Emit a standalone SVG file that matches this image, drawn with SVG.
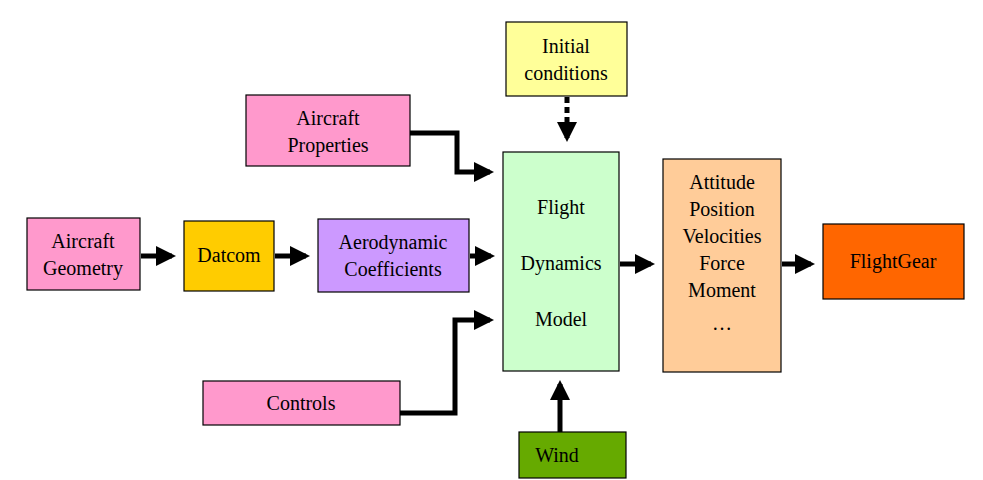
<svg xmlns="http://www.w3.org/2000/svg" width="983" height="480" viewBox="0 0 983 480">
<style>
.b{stroke:#000;stroke-width:1.2}
text{font-family:"Liberation Serif",serif;font-size:20px;text-anchor:middle;fill:#000}
.c{fill:none;stroke:#000;stroke-width:5}
</style>
<defs><marker id="a" markerWidth="4" markerHeight="4" refX="3.2" refY="2" orient="auto" markerUnits="strokeWidth"><path d="M0,0 L4,2 L0,4 Z" fill="#000"/></marker></defs>
<rect width="983" height="480" fill="#fff"/>
<g id="connectors">
<path class="c" d="M567,97 V138" stroke-dasharray="6,4" marker-end="url(#a)"/>
<path class="c" d="M410,133 H457 V172 H490" marker-end="url(#a)"/>
<path class="c" d="M141,256 H172" marker-end="url(#a)"/>
<path class="c" d="M275,256 H306" marker-end="url(#a)"/>
<path class="c" d="M470,256 H491" marker-end="url(#a)"/>
<path class="c" d="M400,413 H455 V320 H490" marker-end="url(#a)"/>
<path class="c" d="M560,432 V384" marker-end="url(#a)"/>
<path class="c" d="M620,264 H651" marker-end="url(#a)"/>
<path class="c" d="M782,264 H811" marker-end="url(#a)"/>
</g>
<g id="init"><rect class="b" x="506" y="22" width="121" height="74" fill="#ffff99"/><text x="566" y="53">Initial</text><text x="566" y="80">conditions</text></g>
<g id="props"><rect class="b" x="246" y="95" width="164" height="71" fill="#ff99cc"/><text x="328" y="125">Aircraft</text><text x="328" y="152">Properties</text></g>
<g id="geom"><rect class="b" x="27" y="218" width="113" height="72" fill="#ff99cc"/><text x="83" y="248">Aircraft</text><text x="83" y="275">Geometry</text></g>
<g id="datcom"><rect class="b" x="184" y="221" width="90" height="70" fill="#ffcc00"/><text x="229" y="262">Datcom</text></g>
<g id="aero"><rect class="b" x="318" y="219" width="151" height="73" fill="#cc99ff"/><text x="393" y="249">Aerodynamic</text><text x="393" y="276">Coefficients</text></g>
<g id="fdm"><rect class="b" x="503" y="152" width="116" height="219" fill="#ccffcc"/><text x="561" y="214">Flight</text><text x="561" y="270">Dynamics</text><text x="561" y="326">Model</text></g>
<g id="out"><rect class="b" x="663" y="159" width="118" height="213" fill="#ffcc99"/><text x="722" y="189">Attitude</text><text x="722" y="216">Position</text><text x="722" y="243">Velocities</text><text x="722" y="270">Force</text><text x="722" y="297">Moment</text><text x="722" y="330">…</text></g>
<g id="fg"><rect class="b" x="823" y="224" width="141" height="75" fill="#ff6600"/><text x="893" y="268">FlightGear</text></g>
<g id="controls"><rect class="b" x="203" y="381" width="197" height="44" fill="#ff99cc"/><text x="301" y="410">Controls</text></g>
<g id="wind"><rect class="b" x="519" y="432" width="107" height="46" fill="#66aa00"/><text x="557" y="462">Wind</text></g>
</svg>
